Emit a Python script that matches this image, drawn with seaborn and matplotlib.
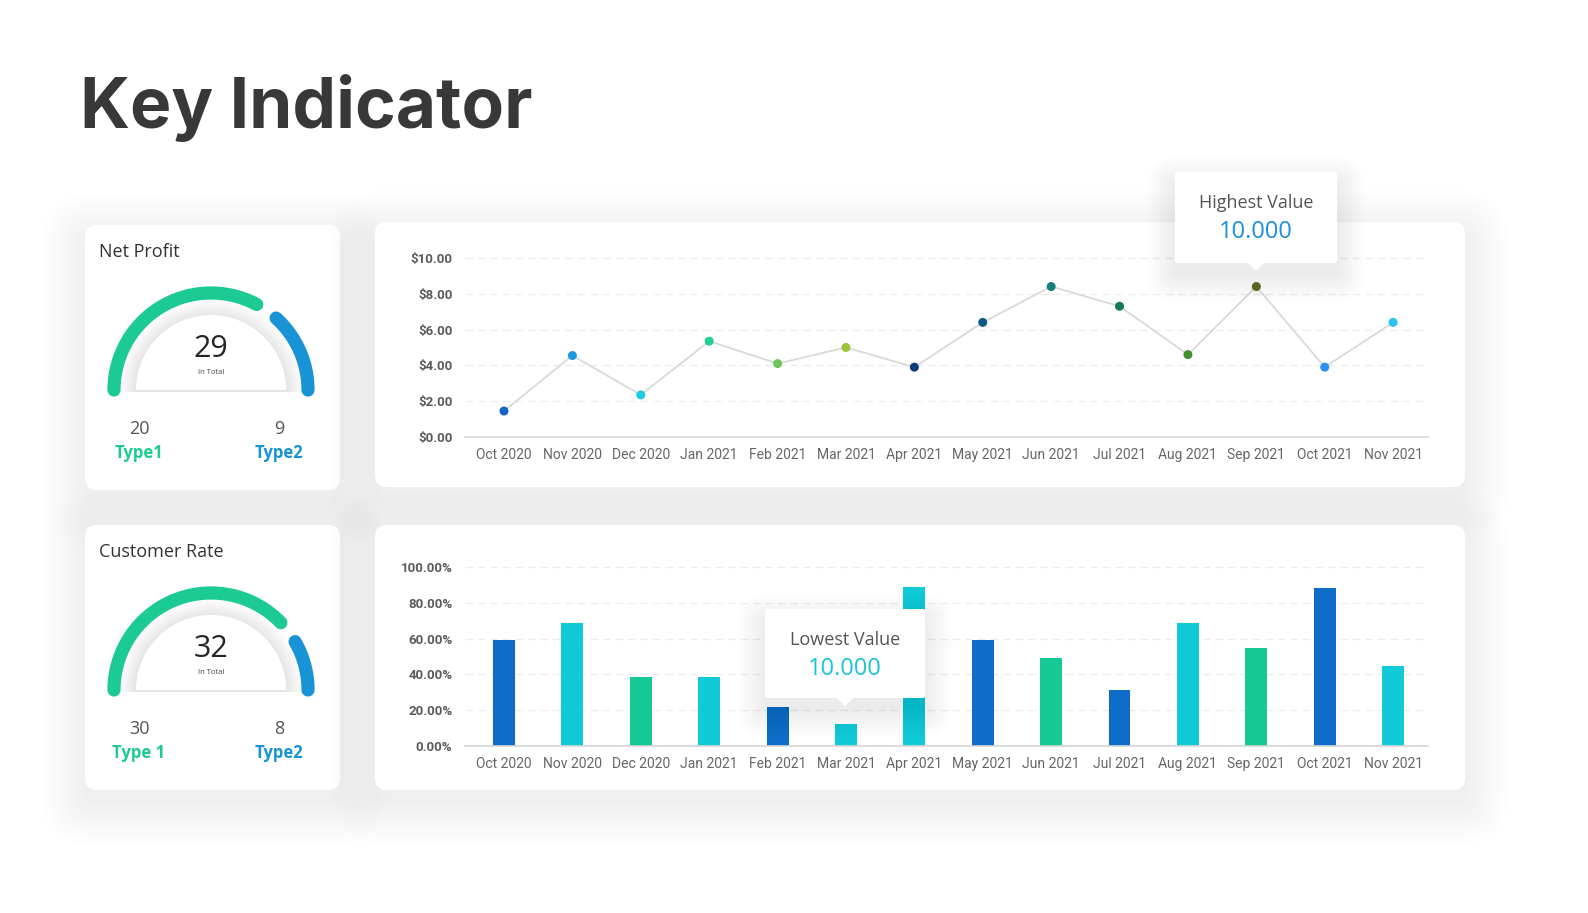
import numpy as np
import pandas as pd
import seaborn as sns
import matplotlib.pyplot as plt
from matplotlib.patches import FancyBboxPatch, Wedge, Polygon

# ---- data ----
months = ['Oct 2020', 'Nov 2020', 'Dec 2020', 'Jan 2021', 'Feb 2021', 'Mar 2021', 'Apr 2021',
          'May 2021', 'Jun 2021', 'Jul 2021', 'Aug 2021', 'Sep 2021', 'Oct 2021', 'Nov 2021']
profit = [1.45, 4.55, 2.35, 5.35, 4.1, 5.0, 3.9, 6.4, 8.4, 7.3, 4.6, 8.4, 3.9, 6.4]
rate = [59, 68.5, 38.5, 38.5, 22, 12.5, 88.5, 59, 49, 31, 68.5, 54.5, 88, 44.5]

profit_ticks = [0, 2, 4, 6, 8, 10]
profit_labels = ['$0.00', '$2.00', '$4.00', '$6.00', '$8.00', '$10.00']
rate_ticks = [0, 20, 40, 60, 80, 100]
rate_labels = ['0.00%', '20.00%', '40.00%', '60.00%', '80.00%', '100.00%']

net_profit = [20, 9]
net_total = 29
customer = [30, 8]
cust_total = 32
net_names = ['Type1', 'Type2']
cust_names = ['Type 1', 'Type2']

point_colors = ['#1565c8', '#1d9ae0', '#1fcbe0', '#22cf98', '#6cc65a', '#9cc33c', '#0f3c78',
                '#0d5a86', '#12807e', '#107a5a', '#40902c', '#5d6e22', '#2a8ef2', '#27c2f2']
bar_colors = ['#0f6cc8', '#10cad8', '#15c994', '#10cad8', '#0f6cc8', '#10cad8', '#10cad8',
              '#0f6cc8', '#15c994', '#0f6cc8', '#10cad8', '#15c994', '#0f6cc8', '#10cad8']

GREEN = '#1ccb93'
BLUE = '#1893d6'

W, H = 1588, 913
fig = plt.figure(figsize=(W / 100, H / 100), dpi=100)
fig.patch.set_facecolor('white')

# background axes in pixel coordinates
bg = fig.add_axes([0, 0, 1, 1], zorder=0)
bg.set_xlim(0, W)
bg.set_ylim(H, 0)
bg.axis('off')


def card(ax, x, y, w, h, r=12, spread=16, strength=0.0035):
    for i in range(spread):
        p = i * 3
        ax.add_patch(FancyBboxPatch((x - p, y - p + 12), w + 2 * p, h + 2 * p,
                                    boxstyle=f'round,pad=0,rounding_size={r + p}',
                                    fc='black', ec='none', alpha=strength))
    ax.add_patch(FancyBboxPatch((x, y), w, h, boxstyle=f'round,pad=0,rounding_size={r}',
                                fc='white', ec='none'))


def gauge(ax, cx, cy, vals, total, names, title):
    R = 97
    # inner shaded half disc
    for r in range(92, 75, -2):
        ax.add_patch(Wedge((cx, cy + 2), r, 180, 360, fc='black', ec='none', alpha=0.012))
    ax.add_patch(Wedge((cx, cy), 75, 180, 360, fc='white', ec='none'))
    split = 180 * (1 - vals[0] / sum(vals))
    t1 = np.radians(np.linspace(180, split + 6, 80))
    t2 = np.radians(np.linspace(split - 8, 0, 60))
    for t, c in [(t1, GREEN), (t2, BLUE)]:
        ax.plot(cx + R * np.cos(t), cy - R * np.sin(t), color=c, lw=9.5,
                solid_capstyle='round')
    ax.text(cx - 112, cy - 138, title, fontsize=13, color='#333333', family='Open Sans',
            va='center', ha='left')
    ax.text(cx, cy - 41, str(total), fontsize=22, color='#262626', family='Open Sans',
            ha='center', va='center')
    ax.text(cx, cy - 18, 'In Total', fontsize=5.5, color='#444444', family='Open Sans',
            ha='center', va='center')
    for dx, v, n, c in [(-72, vals[0], names[0], GREEN), (68, vals[1], names[1], BLUE)]:
        ax.text(cx + dx, cy + 39, str(v), fontsize=13, color='#555555', family='Open Sans',
                ha='center', va='center')
        ax.text(cx + dx, cy + 63, n, fontsize=12, color=c, family='Open Sans',
                fontweight='bold', ha='center', va='center')


card(bg, 85, 225, 255, 265)
card(bg, 375, 222, 1090, 265)
card(bg, 85, 525, 255, 265)
card(bg, 375, 525, 1090, 265)

gauge(bg, 211, 390, net_profit, net_total, net_names, 'Net Profit')
gauge(bg, 211, 690, customer, cust_total, cust_names, 'Customer Rate')

bg.text(80, 108, 'Key Indicator', fontsize=50, fontweight='bold', color='#383838',
        family='Inter', ha='left', va='center')

# chart axes
x0, x1 = 465, 1428
XL = (-0.57, 13.51)


def style_axes(ax, ticks, labels):
    ax.set_facecolor('none')
    ax.set_xlim(*XL)
    ax.set_ylim(ticks[0], ticks[-1])
    ax.set_yticks(ticks)
    ax.set_yticklabels(labels, fontsize=9.5, fontweight='bold', color='#5a5a5a', family='Roboto')
    ax.tick_params(axis='x', labelsize=10, labelcolor='#666666', length=0, pad=8)
    ax.tick_params(axis='y', length=0, pad=9)
    for lab in ax.get_xticklabels():
        lab.set_family('Roboto')
    for s in ['top', 'right', 'left']:
        ax.spines[s].set_visible(False)
    ax.spines['bottom'].set_color('#d6d6d6')
    ax.spines['bottom'].set_linewidth(1.2)
    for t in ticks[1:]:
        ax.axhline(t, color='#ececec', lw=0.9, ls=(0, (6, 4)), zorder=0)
    ax.set_xlabel('')
    ax.set_ylabel('')


df1 = pd.DataFrame({'month': months, 'profit': profit})
ax1 = fig.add_axes([x0 / W, 1 - 437 / H, (x1 - x0) / W, 180 / H], zorder=1)
sns.lineplot(data=df1, x='month', y='profit', ax=ax1, color='#d9d9d9', lw=1.3, sort=False)
sns.scatterplot(data=df1, x='month', y='profit', hue='month', palette=point_colors,
                ax=ax1, s=42, edgecolor='none', legend=False, zorder=3)
style_axes(ax1, profit_ticks, profit_labels)
ax1.set_ylim(0, 10.05)

df2 = pd.DataFrame({'month': months, 'rate': rate})
ax2 = fig.add_axes([x0 / W, 1 - 746 / H, (x1 - x0) / W, 180 / H], zorder=1)
sns.barplot(data=df2, x='month', y='rate', hue='month', palette=bar_colors, ax=ax2,
            width=0.32, legend=False, saturation=1, zorder=2)
style_axes(ax2, rate_ticks, rate_labels)
ax2.set_ylim(0, 100.5)

# overlay for tooltips
ov = fig.add_axes([0, 0, 1, 1], zorder=3)
ov.set_xlim(0, W)
ov.set_ylim(H, 0)
ov.axis('off')
ov.patch.set_visible(False)


def tooltip(ax, x, y, w, h, label, value, vcolor):
    for i in range(10):
        p = i * 3
        ax.add_patch(FancyBboxPatch((x - p, y - p + 12), w + 2 * p, h + 2 * p,
                                    boxstyle=f'round,pad=0,rounding_size={2 + p}',
                                    fc='black', ec='none', alpha=0.006))
    ax.add_patch(FancyBboxPatch((x, y), w, h, boxstyle='round,pad=0,rounding_size=2',
                                fc='white', ec='none'))
    cx = x + w / 2
    ax.add_patch(Polygon([(cx - 8, y + h), (cx + 8, y + h), (cx, y + h + 8)],
                         closed=True, fc='white', ec='none'))
    ax.text(cx, y + 31, label, fontsize=13, color='#555555', family='Open Sans',
            ha='center', va='center')
    ax.text(cx, y + 60, value, fontsize=17, color=vcolor, family='Open Sans',
            ha='center', va='center')


tooltip(ov, 1175, 172, 162, 91, 'Highest Value', '10.000', '#1a8fdc')
tooltip(ov, 765, 609, 160, 89, 'Lowest Value', '10.000', '#19c6d6')

fig.savefig('out.png', dpi=100)
